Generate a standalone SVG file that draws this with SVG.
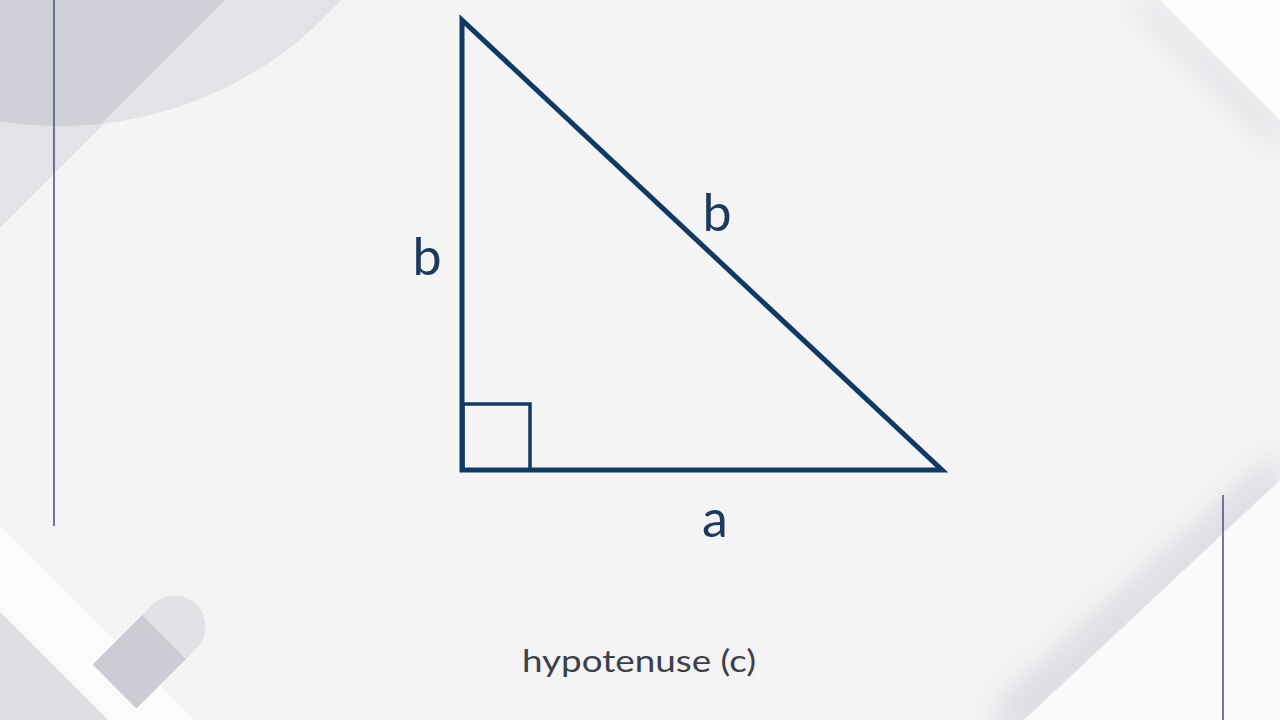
<svg xmlns="http://www.w3.org/2000/svg" width="1280" height="720" viewBox="0 0 1280 720">
<defs>
<style>
.lbl{font-family:Lato,"Open Sans","Liberation Sans",sans-serif;fill:#1b3a5e;font-size:52px;text-anchor:middle}
.cap{font-family:Lato,"Open Sans","Liberation Sans",sans-serif;fill:#3b404a;font-size:30px}
.side{fill:none;stroke:#103a63;stroke-width:5;stroke-linejoin:miter;stroke-miterlimit:20}
.vline{stroke:#4b5a85;stroke-width:1.6}
</style>
<clipPath id="circ"><circle cx="60" cy="-250" r="376"/></clipPath>
<filter id="blur" x="-20%" y="-20%" width="140%" height="140%"><feGaussianBlur stdDeviation="14"/></filter>
</defs>
<rect width="1280" height="720" fill="#f4f4f5"/>
<g id="bg-topleft">
<polygon points="0,0 228,0 0,228" fill="#e3e3e7"/>
<circle cx="60" cy="-250" r="376" fill="#e3e3e7"/>
<polygon points="0,0 225,0 0,225" fill="#cfd0d8" clip-path="url(#circ)"/>
</g>
<g id="bg-bottomleft">
<polygon points="0,525 195,720 0,720" fill="#fbfbfb"/>
<polygon points="0,612 108,720 0,720" fill="#dedee2"/>
<g transform="translate(164,637) rotate(-45)">
<path d="M0,-31 H15 A31,31 0 0 1 15,31 H0 Z" fill="#e2e2e6"/>
<rect x="-70" y="-31" width="70" height="62" fill="#cbccd4"/>
</g>
</g>
<g id="bg-topright">
<polygon points="1150,0 1280,125 1280,150 1130,0" fill="#dcdce2" filter="url(#blur)"/>
<polygon points="1160,0 1280,0 1280,120" fill="#fcfcfc"/>
</g>
<g id="bg-bottomright">
<polygon points="1000,700 1280,450 1280,500 1000,760" fill="#dcdce2" filter="url(#blur)"/>
<polygon points="1024,720 1280,480 1280,720" fill="#fafafa"/>
</g>
<line class="vline" x1="54" y1="0" x2="54" y2="526"/>
<line class="vline" x1="1223" y1="495" x2="1223" y2="720"/>
<g id="triangle">
<polygon class="side" points="462,20 462,470 942,470"/>
<rect x="463" y="404" width="67" height="66" fill="none" stroke="#103a63" stroke-width="3.5"/>
</g>
<g id="labels">
<text class="lbl" x="427" y="275">b</text>
<text class="lbl" x="717" y="231">b</text>
<text class="lbl" x="715" y="537">a</text>
<text class="cap" x="522" y="672" textLength="234" lengthAdjust="spacingAndGlyphs">hypotenuse (c)</text>
</g>
</svg>
